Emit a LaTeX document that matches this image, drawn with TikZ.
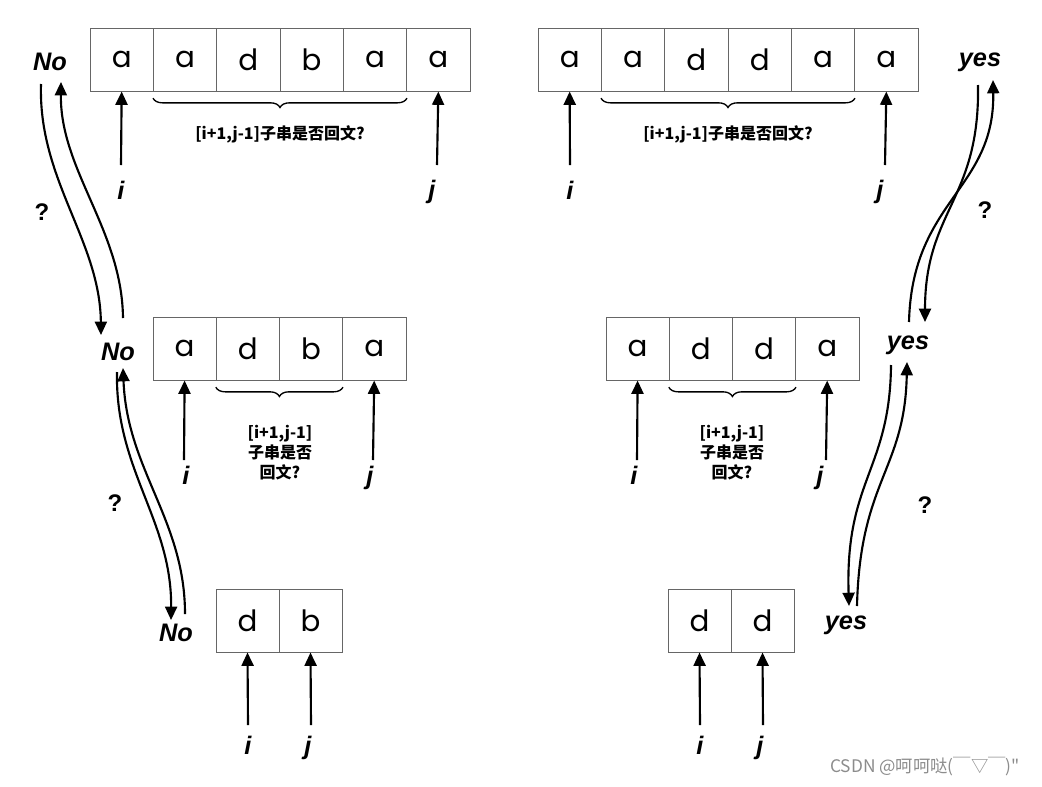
\documentclass[tikz,border=0pt]{standalone}
\usepackage{fontspec}
\setmainfont{Poppins}
\newfontfamily\cjk{Noto Sans CJK SC}
\newfontfamily\hand{Liberation Sans}
\usetikzlibrary{decorations.pathreplacing,arrows.meta}
\begin{document}
\begin{tikzpicture}[x=0.75pt,y=-0.75pt,
 cell/.style={draw=black!60,line width=0.5pt,minimum width=47.5pt,minimum height=47.5pt,inner sep=0,font=\fontsize{22}{22}\selectfont},
 ptr/.style={-{Triangle[length=10pt,width=9pt]},line width=1.6pt},
 lab/.style={font=\hand\bfseries\itshape\fontsize{19}{19}\selectfont},
 br/.style={decorate,decoration={brace,mirror,amplitude=7pt},line width=1pt},
 q/.style={font=\cjk\bfseries\fontsize{12}{15}\selectfont,align=center},
 qm/.style={font=\hand\bfseries\fontsize{18}{18}\selectfont},
 carr/.style={-{Triangle[length=10pt,width=9pt]},line width=1.6pt}]
\useasboundingbox (0,0) rectangle (1042,786);
% top left
\foreach \c [count=\k] in {a,a,d,b,a,a}
  \node[cell] (tl\k) at ({90+63.33*(\k-0.5)},59.5) {\c};
\foreach \c [count=\k] in {a,a,d,d,a,a}
  \node[cell] (tr\k) at ({538+63.33*(\k-0.5)},59.5) {\c};
\foreach \c [count=\k] in {a,d,b,a}
  \node[cell] (ml\k) at ({153+63.2*(\k-0.5)},348.5) {\c};
\foreach \c [count=\k] in {a,d,d,a}
  \node[cell] (mr\k) at ({606+63.2*(\k-0.5)},348.5) {\c};
\foreach \c [count=\k] in {d,b}
  \node[cell] (bl\k) at ({216+63*(\k-0.5)},620.5) {\c};
\foreach \c [count=\k] in {d,d}
  \node[cell] (br\k) at ({668+63*(\k-0.5)},620.5) {\c};
% pointers
\node[lab] (tli) at (121,190) {i}; \node[lab] (tlj) at (432,192) {j};
\draw[ptr] (121,165) -- (tl1.south);
\draw[ptr] (437,165) -- (tl6.south);
\node[lab] (tri) at (570,190) {i}; \node[lab] (trj) at (880,192) {j};
\draw[ptr] (570,165) -- (tr1.south);
\draw[ptr] (885,165) -- (tr6.south);
\node[lab] (mli) at (186,475) {i}; \node[lab] (mlj) at (370,478) {j};
\draw[ptr] (184,460) -- (ml1.south);
\draw[ptr] (373,460) -- (ml4.south);
\node[lab] (mri) at (634,475) {i}; \node[lab] (mrj) at (820,478) {j};
\draw[ptr] (637,460) -- (mr1.south);
\draw[ptr] (826,460) -- (mr4.south);
\node[lab] (bli) at (248,745) {i}; \node[lab] (blj) at (308,748) {j};
\draw[ptr] (248,725) -- (bl1.south);
\draw[ptr] (311,725) -- (bl2.south);
\node[lab] (bri) at (700,745) {i}; \node[lab] (brj) at (760,748) {j};
\draw[ptr] (700,725) -- (br1.south);
\draw[ptr] (763,725) -- (br2.south);
% braces
\draw[br] ([yshift=-5pt]tl2.south west) -- ([yshift=-5pt]tl5.south east);
\node[q] (tlq) at (280,134) {[i+1,j-1]子串是否回文?};
\draw[br] ([yshift=-5pt]tr2.south west) -- ([yshift=-5pt]tr5.south east);
\node[q] (trq) at (728,134) {[i+1,j-1]子串是否回文?};
\draw[br] ([yshift=-5pt]ml2.south west) -- ([yshift=-5pt]ml3.south east);
\node[q] (mlq) at (280,453) {[i+1,j-1]\\子串是否\\回文?};
\draw[br] ([yshift=-5pt]mr2.south west) -- ([yshift=-5pt]mr3.south east);
\node[q] (mrq) at (732,453) {[i+1,j-1]\\子串是否\\回文?};
% No / yes labels
\node[lab] (n1) at (50,62) {No};
\node[lab] (n2) at (118,352) {No};
\node[lab] (n3) at (176,633) {No};
\node[lab] (y1) at (980,62) {yes};
\node[lab] (y2) at (908,345) {yes};
\node[lab] (y3) at (846,625) {yes};
\node[qm] at (42,212) {?};
\node[qm] at (115,503) {?};
\node[qm] at (985,210) {?};
\node[qm] at (925,505) {?};
% curved arrows
\draw[carr] (41,84) .. controls (38,180) and (100,240) .. (101,335);
\draw[carr] (123,318) .. controls (122,230) and (60,170) .. (61,82);
\draw[carr] (117,372) .. controls (115,470) and (172,520) .. (171,620);
\draw[carr] (185,614) .. controls (185,520) and (127,470) .. (123,368);
\draw[carr] (909,322) .. controls (912,200) and (995,190) .. (993,80);
\draw[carr] (978,85) .. controls (980,200) and (925,210) .. (925,322);
\draw[carr] (857,606) .. controls (860,480) and (905,470) .. (907,362);
\draw[carr] (891,365) .. controls (890,470) and (845,480) .. (849,606);
\node[font=\cjk\fontsize{13}{13}\selectfont,text=black!45] (wm) at (925,767) {CSDN @呵呵哒(￣▽￣)"};
\end{tikzpicture}
\end{document}
